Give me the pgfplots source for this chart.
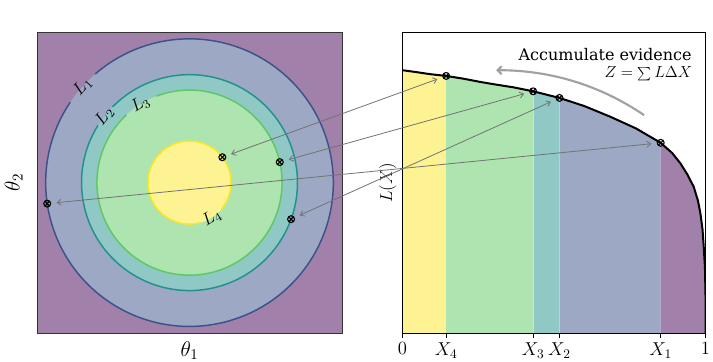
\RequirePackage{fix-cm}
\documentclass[border=0pt]{standalone}
\usepackage{fontspec}
\setmainfont{DejaVu Serif}
\usepackage{pgfplots}
\pgfplotsset{compat=1.18}
\usetikzlibrary{arrows.meta}
\definecolor{cP}{HTML}{A180A9}
\definecolor{cB}{HTML}{9DA8C5}
\definecolor{cT}{HTML}{90C8C5}
\definecolor{cG}{HTML}{AEE4B0}
\definecolor{cY}{HTML}{FEF392}
\definecolor{lB}{HTML}{3B528B}
\definecolor{lT}{HTML}{21918C}
\definecolor{lG}{HTML}{5EC962}
\definecolor{lY}{HTML}{FDE725}
\begin{document}
\begin{tikzpicture}
\path[use as bounding box] (0,0) rectangle (534.75pt,270.75pt);
% ---------------- left panel ----------------
\begin{axis}[
  at={(27.75pt,20.8pt)}, anchor=south west, scale only axis,
  width=228.75pt, height=226pt,
  xmin=-1, xmax=1, ymin=-0.988, ymax=0.988,
  xtick=\empty, ytick=\empty,
  axis background/.style={fill=cP},
  axis line style={black!80, line width=0.6pt},
  xlabel={$\theta_1$}, ylabel={$\theta_2$},
  label style={font=\fontsize{16}{18}\selectfont},
  xlabel style={at={(axis description cs:0.5,-0.0265)}, anchor=north, inner sep=0pt},
  ylabel style={at={(axis description cs:-0.046,0.5)}, anchor=south, inner sep=0pt},
]
\fill[cB] (axis cs:0,0) circle[radius=0.943];
\fill[cT] (axis cs:0,0) circle[radius=0.708];
\fill[cG] (axis cs:0,0) circle[radius=0.607];
\fill[cY] (axis cs:0,0) circle[radius=0.272];
\draw[lB, line width=1.1pt] (axis cs:-0.7818,0.5273) arc[start angle=146, end angle=491, radius=0.943];
\draw[lT, line width=1.1pt] (axis cs:-0.6004,0.3752) arc[start angle=148, end angle=495.5, radius=0.708];
\draw[lG, line width=1.1pt] (axis cs:-0.4140,0.4439) arc[start angle=133, end angle=471, radius=0.607];
\draw[lY, line width=1.1pt] (axis cs:0.2084,-0.1748) arc[start angle=-40, end angle=285, radius=0.272];
\begin{scope}[font=\fontsize{13}{15}\selectfont, inner sep=0pt]
\node[rotate=48] at (axis cs:-0.7008,0.6310) {$L_1$};
\node[rotate=52] at (axis cs:-0.5579,0.4359) {$L_2$};
\node[rotate=32] at (axis cs:-0.3217,0.5147) {$L_3$};
\node[rotate=32] at (axis cs:0.1461,-0.2294) {$L_4$};
\end{scope}
\addplot[only marks, mark=otimes, mark size=2.6pt, black, line width=0.8pt]
  coordinates {(0.2152,0.1663) (0.5919,0.1345) (0.6662,-0.2398) (-0.9329,-0.1378)};
\coordinate (p4) at (axis cs:0.2152,0.1663);
\coordinate (p3) at (axis cs:0.5919,0.1345);
\coordinate (p2) at (axis cs:0.6662,-0.2398);
\coordinate (p1) at (axis cs:-0.9329,-0.1378);
\end{axis}
% ---------------- right panel ----------------
\begin{axis}[
  at={(301.9pt,20.8pt)}, anchor=south west, scale only axis,
  width=227.25pt, height=226pt,
  xmin=0, xmax=1, ymin=0, ymax=1,
  ytick=\empty,
  xtick={0,0.144,0.431,0.518,0.852,1},
  xticklabels={$0$,$X_4$,$X_3$,$X_2$,$X_1$,$1$},
  xtick pos=lower,
  tick align=outside, major tick length=3.6pt,
  x tick style={black, line width=0.6pt},
  axis line style={black, line width=0.6pt},
  ticklabel style={font=\fontsize{14}{16}\selectfont},
  ylabel={$L(X)$},
  label style={font=\fontsize{13}{15}\selectfont},
  ylabel style={at={(axis description cs:-0.0195,0.5)}, anchor=south, inner sep=0pt},
  axis on top,
]
\addplot[fill=cY, draw=none] coordinates {(0,0.873) (0.05,0.866) (0.09,0.860) (0.144,0.854)} \closedcycle;
\addplot[fill=cG, draw=none] coordinates {(0.144,0.854) (0.2,0.845) (0.257,0.834) (0.31,0.825) (0.367,0.816) (0.431,0.803)} \closedcycle;
\addplot[fill=cT, draw=none] coordinates {(0.431,0.803) (0.518,0.781)} \closedcycle;
\addplot[fill=cB, draw=none] coordinates {(0.518,0.781) (0.6,0.754) (0.687,0.718) (0.77,0.680) (0.852,0.632)} \closedcycle;
\addplot[fill=cP, draw=none] coordinates {(0.852,0.632) (0.89,0.598) (0.917,0.564) (0.94,0.527) (0.961,0.486) (0.975,0.44) (0.983,0.398) (0.99,0.345) (0.994,0.287) (0.998,0.22) (1,0.12) (1,0)} \closedcycle;
\addplot[black!0!cG!70!white, line width=0.5pt] coordinates {(0.431,0) (0.431,0.803)};
\addplot[cB!60!white, line width=0.5pt] coordinates {(0.518,0) (0.518,0.781)};
\addplot[black, line width=1.5pt] coordinates {
 (0,0.873) (0.05,0.866) (0.09,0.860) (0.144,0.854) (0.2,0.845) (0.257,0.834)
 (0.31,0.825) (0.367,0.816) (0.431,0.803) (0.518,0.781) (0.6,0.754) (0.687,0.718)
 (0.77,0.680) (0.852,0.632) (0.89,0.598) (0.917,0.564) (0.94,0.527) (0.961,0.486)
 (0.975,0.44) (0.983,0.398) (0.99,0.345) (0.994,0.287) (0.998,0.22) (1,0.12) (1,0)};
\addplot[only marks, mark=otimes, mark size=2.6pt, black, line width=0.8pt]
  coordinates {(0.144,0.854) (0.431,0.803) (0.518,0.781) (0.852,0.632)};
\coordinate (q4) at (axis cs:0.144,0.854);
\coordinate (q3) at (axis cs:0.431,0.803);
\coordinate (q2) at (axis cs:0.518,0.781);
\coordinate (q1) at (axis cs:0.852,0.632);
\draw[black!37, line width=1.6pt, -{Straight Barb[length=3pt,width=6pt]}]
  (axis cs:0.797,0.724) .. controls (axis cs:0.652,0.823) and (axis cs:0.489,0.873) .. (axis cs:0.309,0.873);
\node[anchor=base east, inner sep=0pt, font=\fontsize{12}{14}\selectfont] at (axis cs:0.955,0.904) {Accumulate evidence};
\node[anchor=base east, inner sep=0pt, font=\fontsize{12}{14}\selectfont] at (axis cs:0.957,0.848) {$Z=\sum L\Delta X$};
\end{axis}
% ---------------- connecting arrows ----------------
\begin{scope}[black!55, line width=0.6pt, shorten <=7pt, shorten >=7pt,
  {Straight Barb[length=3pt,width=4.5pt]}-{Straight Barb[length=3pt,width=4.5pt]}]
\draw (p4) -- (q4);
\draw (p3) -- (q3);
\draw (p2) -- (q2);
\draw (p1) -- (q1);
\end{scope}
\end{tikzpicture}
\end{document}
